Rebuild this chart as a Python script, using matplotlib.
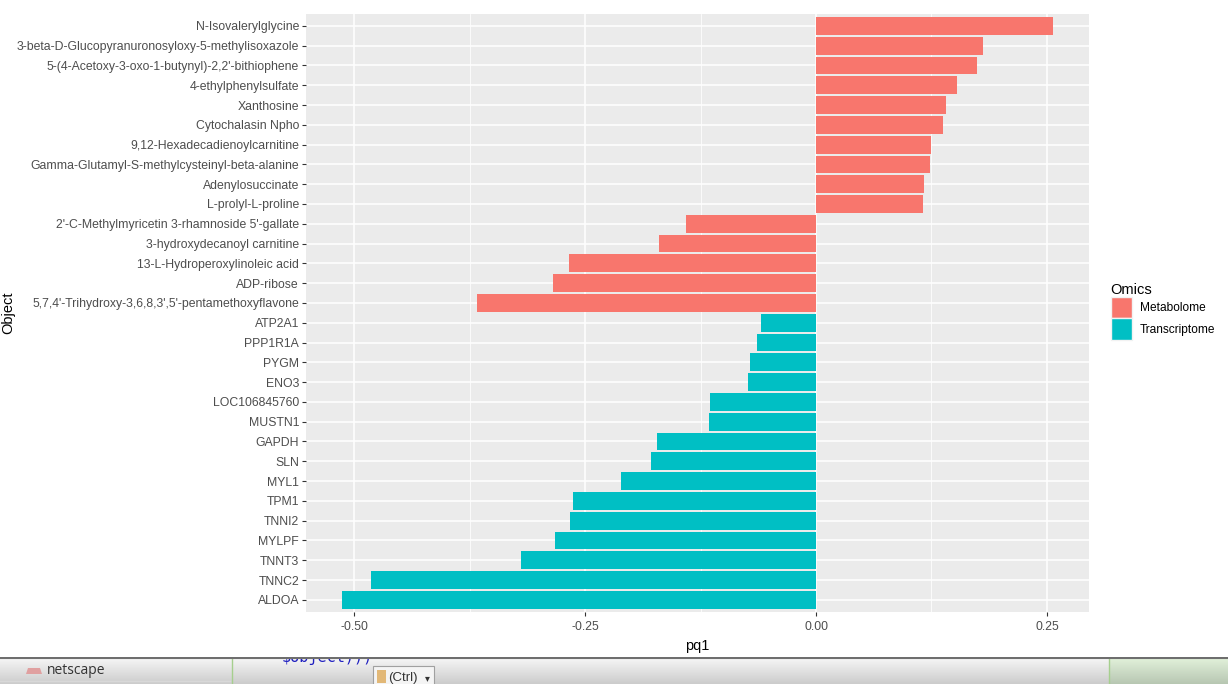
import matplotlib
matplotlib.use("Agg")
import matplotlib.pyplot as plt
from matplotlib.patches import Patch, Rectangle, Polygon
from matplotlib.ticker import MultipleLocator
import numpy as np

plt.rcParams['font.family'] = ['Liberation Sans', 'DejaVu Sans']

# categories, top to bottom as drawn
objects = [
    "N-Isovalerylglycine",
    "3-beta-D-Glucopyranuronosyloxy-5-methylisoxazole",
    "5-(4-Acetoxy-3-oxo-1-butynyl)-2,2'-bithiophene",
    "4-ethylphenylsulfate",
    "Xanthosine",
    "Cytochalasin Npho",
    "9,12-Hexadecadienoylcarnitine",
    "Gamma-Glutamyl-S-methylcysteinyl-beta-alanine",
    "Adenylosuccinate",
    "L-prolyl-L-proline",
    "2'-C-Methylmyricetin 3-rhamnoside 5'-gallate",
    "3-hydroxydecanoyl carnitine",
    "13-L-Hydroperoxylinoleic acid",
    "ADP-ribose",
    "5,7,4'-Trihydroxy-3,6,8,3',5'-pentamethoxyflavone",
    "ATP2A1", "PPP1R1A", "PYGM", "ENO3", "LOC106845760", "MUSTN1",
    "GAPDH", "SLN", "MYL1", "TPM1", "TNNI2", "MYLPF", "TNNT3", "TNNC2", "ALDOA",
]
pq1 = [
    0.257, 0.181, 0.1745, 0.153, 0.141, 0.1376, 0.1246, 0.1235, 0.117, 0.116,
    -0.141, -0.170, -0.268, -0.285, -0.367,
    -0.0596, -0.0639, -0.0715, -0.0737, -0.1149, -0.116,
    -0.1723, -0.1788, -0.2113, -0.2634, -0.2666, -0.2829, -0.3197, -0.4823, -0.5137,
]
omics = ["Metabolome"] * 15 + ["Transcriptome"] * 15

omics_levels = ["Metabolome", "Transcriptome"]
omics_colors = {"Metabolome": "#F8766D", "Transcriptome": "#00BFC4"}

fig = plt.figure(figsize=(12.28, 6.84), dpi=100)
fig.patch.set_facecolor("white")
ax = fig.add_axes([306 / 1228, 1 - 611.7 / 684, (1089 - 306) / 1228, (611.7 - 14) / 684])

n = len(objects)
ypos = np.arange(n)[::-1]
cols = [omics_colors[o] for o in omics]
ax.barh(ypos, pq1, height=0.9, color=cols, zorder=3)

# ggplot-like expansion
lo = min(min(pq1), 0)
hi = max(max(pq1), 0)
span = hi - lo
ax.set_xlim(lo - 0.05 * span, hi + 0.05 * span)
ax.set_ylim(-0.6, n - 1 + 0.6)

ax.set_facecolor("#EBEBEB")
ax.xaxis.set_minor_locator(MultipleLocator(0.125))
ax.set_yticks(ypos)
ax.set_yticklabels(objects)
ax.set_xticks([-0.5, -0.25, 0.0, 0.25])
ax.set_xticklabels(["-0.50", "-0.25", "0.00", "0.25"])
ax.grid(which="major", color="white", linewidth=1.1, zorder=1)
ax.grid(which="minor", axis="x", color="white", linewidth=0.55, zorder=1)
ax.set_axisbelow(True)
for s in ax.spines.values():
    s.set_visible(False)
ax.tick_params(which="major", length=3, width=0.8, color="#333333",
               labelcolor="#4D4D4D", labelsize=8.8, pad=2)
ax.tick_params(axis="x", which="major", pad=4)
ax.tick_params(which="minor", length=0)

ax.set_xlabel("pq1", fontsize=10.5, color="black", labelpad=4)
ax.set_ylabel("Object", fontsize=10.5, color="black")
ax.yaxis.set_label_coords((15 - 306) / 783, 0.5)

fs = 8.6
handles = [Patch(facecolor=omics_colors[o], edgecolor="#F2F2F2", linewidth=1) for o in omics_levels]
leg = fig.legend(handles, omics_levels, loc="upper left",
                 bbox_to_anchor=(1107 / 1228, 1 - 279 / 684),
                 frameon=False, title="Omics", fontsize=fs, title_fontsize=10.5,
                 handlelength=1.82, handleheight=2.42, handletextpad=0.62,
                 labelspacing=0.0, alignment="left", borderaxespad=0, borderpad=0.3)

# window chrome strip at the bottom of the screenshot
strip_h = 27
sa = fig.add_axes([0, 0, 1, strip_h / 684])
sa.set_xlim(0, 1228)
sa.set_ylim(0, strip_h)
sa.axis("off")
grad = np.linspace(0.97, 0.80, 40).reshape(-1, 1)
sa.imshow(np.dstack([grad, grad, grad]), extent=(0, 1109, 0, strip_h), aspect="auto", zorder=0)
ggrad = np.dstack([np.linspace(0.89, 0.72, 40), np.linspace(0.95, 0.78, 40), np.linspace(0.86, 0.70, 40)])
sa.imshow(ggrad.reshape(40, 1, 3), extent=(1109, 1228, 0, strip_h), aspect="auto", zorder=0)
sa.plot([0, 1228], [strip_h - 0.8, strip_h - 0.8], color="#6E6E6E", lw=1.5, zorder=6)
sa.plot([232, 232], [0, strip_h], color="#A6CF8E", lw=1, zorder=2)
sa.plot([1109, 1109], [0, strip_h], color="#A6CF8E", lw=1, zorder=2)
sa.plot([0, 230], [3, 3], color="#D8D8D8", lw=1, zorder=2)
sa.add_patch(Polygon([[26, 10], [42, 10], [40, 16], [28, 16]], closed=True,
                     facecolor="#E0A0A0", edgecolor="none", zorder=3))
sa.text(47, 13, "netscape", fontsize=10, color="#333333", va="center",
        family=["Open Sans", "DejaVu Sans"], zorder=3)
t = sa.text(282, 19, "$object)))", fontsize=11, color="#2020C0", va="bottom",
            family="DejaVu Sans Mono", zorder=3)
t.set_clip_on(True)
t.set_clip_box(sa.bbox)
sa.add_patch(Rectangle((373, -1), 61, 19, facecolor="#F4F4F4", edgecolor="#A0A0A0",
                       lw=0.8, zorder=3))
sa.add_patch(Rectangle((377, 1), 9, 13, facecolor="#E2B877", edgecolor="none", zorder=4))
sa.text(388, 6, "(Ctrl)", fontsize=9.5, color="#333333", va="center", zorder=4)
sa.text(425, 6, "\u25be", fontsize=7, color="#333333", va="center", zorder=4)

fig.savefig("out.png", dpi=100)
